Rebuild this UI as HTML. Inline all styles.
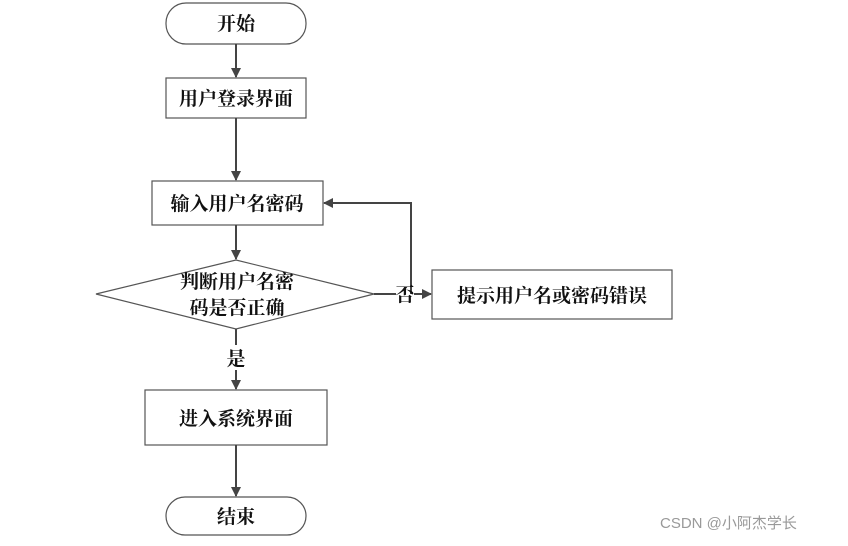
<!DOCTYPE html>
<html><head><meta charset="utf-8"><style>
body{margin:0;background:#fff}
text{font-family:"Liberation Serif","Noto Serif CJK SC",serif;font-size:19px;font-weight:bold;fill:#111}
</style></head><body>
<svg width="848" height="541" xmlns="http://www.w3.org/2000/svg">
<defs><marker id="a" markerWidth="10" markerHeight="10" refX="9" refY="5" orient="auto" markerUnits="userSpaceOnUse"><path d="M0,0 L10,5 L0,10 Z" fill="#444"/></marker></defs>
<g fill="#fff" stroke="#555" stroke-width="1.2">
<rect x="166" y="3" width="140" height="41" rx="20"/>
<rect x="166" y="78" width="140" height="40"/>
<rect x="152" y="181" width="171" height="44"/>
<polygon points="96,294 236,260 374,294 236,329"/>
<rect x="432" y="270" width="240" height="49"/>
<rect x="145" y="390" width="182" height="55"/>
<rect x="166" y="497" width="140" height="38" rx="19"/>
</g>
<g stroke="#444" stroke-width="2" fill="none">
<line x1="236" y1="44" x2="236" y2="77" marker-end="url(#a)"/>
<line x1="236" y1="118" x2="236" y2="180" marker-end="url(#a)"/>
<line x1="236" y1="225" x2="236" y2="259" marker-end="url(#a)"/>
<line x1="374" y1="294" x2="396" y2="294"/>
<line x1="414" y1="294" x2="431" y2="294" marker-end="url(#a)"/>
<polyline points="411,294 411,203 324,203" marker-end="url(#a)"/>
<line x1="236" y1="329" x2="236" y2="345"/>
<line x1="236" y1="370" x2="236" y2="389" marker-end="url(#a)"/>
<line x1="236" y1="445" x2="236" y2="496" marker-end="url(#a)"/>
</g>
<g text-anchor="middle">
<text x="236" y="30">开始</text>
<text x="236" y="105">用户登录界面</text>
<text x="237" y="210">输入用户名密码</text>
<text x="237" y="288">判断用户名密</text>
<text x="237" y="314">码是否正确</text>
<text x="405" y="301">否</text>
<text x="552" y="302">提示用户名或密码错误</text>
<text x="236" y="365">是</text>
<text x="236" y="425">进入系统界面</text>
<text x="236" y="523">结束</text>
</g>
<text x="660" y="528" style="font-family:'Liberation Sans','Noto Sans CJK SC',sans-serif;font-size:15px;font-weight:normal;fill:#999">CSDN @小阿杰学长</text>
</svg>
</body></html>
